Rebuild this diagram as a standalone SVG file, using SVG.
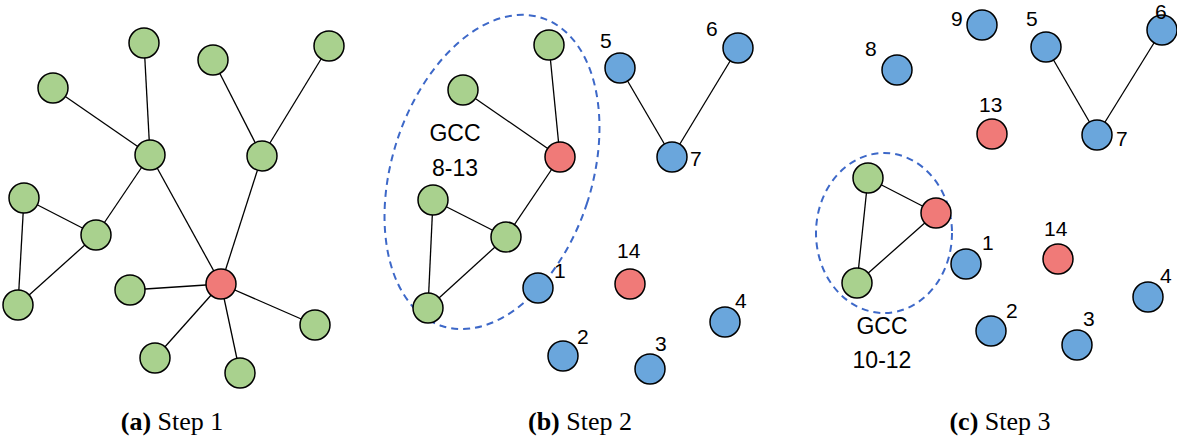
<svg xmlns="http://www.w3.org/2000/svg" width="1177" height="441" viewBox="0 0 1177 441">
<style>
.g{fill:#a9d18e;stroke:#000;stroke-width:1.5}
.b{fill:#6aa6dc;stroke:#000;stroke-width:1.5}
.r{fill:#f07a78;stroke:#000;stroke-width:1.5}
.e line{stroke:#000;stroke-width:1.3}
.l{font-family:"Liberation Sans",Arial,sans-serif;font-size:21px;fill:#000}
.t{font-family:"Liberation Sans",Arial,sans-serif;font-size:23px;fill:#000;text-anchor:middle}
.c{font-family:"Liberation Serif","Times New Roman",serif;font-size:26px;fill:#000;text-anchor:middle}
.el{fill:none;stroke:#3d68c8;stroke-width:2;stroke-dasharray:7,5}
</style>
<rect width="1177" height="441" fill="#fff"/>
<g id="connectors" class="e">
<line x1="144" y1="43" x2="150" y2="155"/><line x1="53" y1="88" x2="150" y2="155"/><line x1="150" y1="155" x2="96" y2="235"/><line x1="150" y1="155" x2="221" y2="284"/><line x1="213" y1="60" x2="262" y2="156"/><line x1="329" y1="46" x2="262" y2="156"/><line x1="262" y1="156" x2="221" y2="284"/><line x1="24" y1="198" x2="96" y2="235"/><line x1="24" y1="198" x2="18" y2="305"/><line x1="96" y1="235" x2="18" y2="305"/><line x1="130" y1="290" x2="221" y2="284"/><line x1="155" y1="358" x2="221" y2="284"/><line x1="240" y1="373" x2="221" y2="284"/><line x1="315" y1="325" x2="221" y2="284"/>
<line x1="549" y1="45" x2="560" y2="157"/><line x1="463" y1="90" x2="560" y2="157"/><line x1="560" y1="157" x2="506" y2="237"/><line x1="433" y1="200" x2="506" y2="237"/><line x1="433" y1="200" x2="428" y2="308"/><line x1="428" y1="308" x2="506" y2="237"/><line x1="620" y1="68" x2="672" y2="157"/><line x1="738" y1="48" x2="672" y2="157"/>
<line x1="1046" y1="47" x2="1097" y2="135"/><line x1="1162" y1="30" x2="1097" y2="135"/><line x1="868" y1="178" x2="936" y2="213"/><line x1="868" y1="178" x2="857" y2="283"/><line x1="857" y1="283" x2="936" y2="213"/>
</g>
<ellipse class="el" cx="492" cy="172" rx="100" ry="162" transform="rotate(18 492 172)"/>
<ellipse class="el" cx="884" cy="233" rx="68" ry="80"/>
<g id="a-nodes">
<circle class="g" cx="144" cy="43" r="15"/><circle class="g" cx="53" cy="88" r="15"/><circle class="g" cx="213" cy="60" r="15"/><circle class="g" cx="329" cy="46" r="15"/><circle class="g" cx="150" cy="155" r="15"/><circle class="g" cx="262" cy="156" r="15"/><circle class="g" cx="24" cy="198" r="15"/><circle class="g" cx="96" cy="235" r="15"/><circle class="g" cx="18" cy="305" r="15"/><circle class="g" cx="130" cy="290" r="15"/><circle class="r" cx="221" cy="284" r="15"/><circle class="g" cx="155" cy="358" r="15"/><circle class="g" cx="240" cy="373" r="15"/><circle class="g" cx="315" cy="325" r="15"/>
</g>
<g id="b-nodes">
<circle class="g" cx="549" cy="45" r="15"/><circle class="g" cx="463" cy="90" r="15"/><circle class="r" cx="560" cy="157" r="15"/><circle class="g" cx="433" cy="200" r="15"/><circle class="g" cx="506" cy="237" r="15"/><circle class="g" cx="428" cy="308" r="15"/>
<circle class="b" cx="620" cy="68" r="15"/><circle class="b" cx="738" cy="48" r="15"/><circle class="b" cx="672" cy="157" r="15"/><circle class="b" cx="538" cy="288" r="15"/><circle class="r" cx="630" cy="284" r="15"/><circle class="b" cx="725" cy="322" r="15"/><circle class="b" cx="563" cy="356" r="15"/><circle class="b" cx="650" cy="369" r="15"/>
<text class="l" x="600" y="48">5</text><text class="l" x="706" y="36">6</text><text class="l" x="690" y="166">7</text><text class="l" x="554" y="278">1</text><text class="l" x="617" y="258">14</text><text class="l" x="735" y="308">4</text><text class="l" x="577" y="344">2</text><text class="l" x="655" y="351">3</text>
<text class="t" x="455" y="141">GCC</text><text class="t" x="455" y="176">8-13</text>
</g>
<g id="c-nodes">
<circle class="b" cx="982" cy="25" r="15"/><circle class="b" cx="1046" cy="47" r="15"/><circle class="b" cx="1162" cy="30" r="15"/><circle class="b" cx="897" cy="70" r="15"/><circle class="r" cx="992" cy="134" r="15"/><circle class="b" cx="1097" cy="135" r="15"/><circle class="g" cx="868" cy="178" r="15"/><circle class="r" cx="936" cy="213" r="15"/><circle class="g" cx="857" cy="283" r="15"/><circle class="b" cx="966" cy="264" r="15"/><circle class="r" cx="1058" cy="259" r="15"/><circle class="b" cx="1148" cy="297" r="15"/><circle class="b" cx="991" cy="331" r="15"/><circle class="b" cx="1077" cy="345" r="15"/>
<text class="l" x="951" y="26">9</text><text class="l" x="1026" y="26">5</text><text class="l" x="1155" y="19">6</text><text class="l" x="865" y="56">8</text><text class="l" x="979" y="112">13</text><text class="l" x="1116" y="146">7</text><text class="l" x="982" y="250">1</text><text class="l" x="1044" y="236">14</text><text class="l" x="1160" y="283">4</text><text class="l" x="1006" y="318">2</text><text class="l" x="1083" y="326">3</text>
<text class="t" x="882" y="334">GCC</text><text class="t" x="882" y="368">10-12</text>
</g>
<text class="c" x="172" y="430"><tspan font-weight="bold">(a)</tspan> Step 1</text>
<text class="c" x="580" y="430"><tspan font-weight="bold">(b)</tspan> Step 2</text>
<text class="c" x="1000" y="430"><tspan font-weight="bold">(c)</tspan> Step 3</text>
</svg>
